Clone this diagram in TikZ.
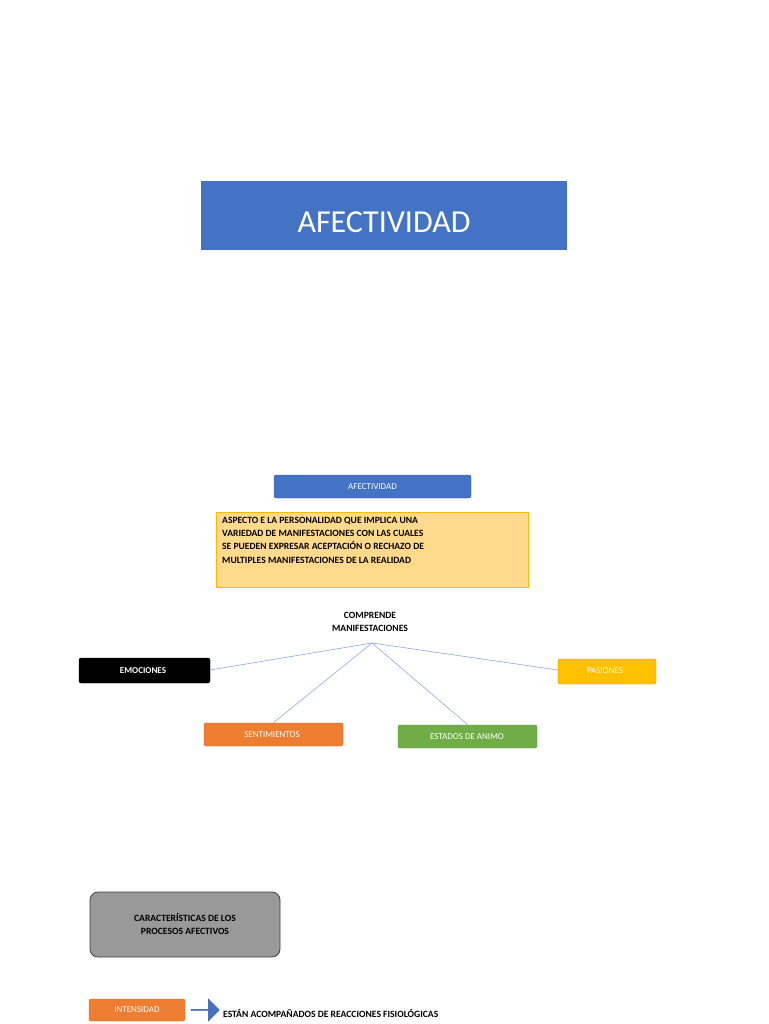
\documentclass[tikz,border=0pt]{standalone}
\usepackage{fontspec}
\setmainfont{Carlito}
\usetikzlibrary{shapes.arrows}
\definecolor{cblue}{HTML}{4472C4}
\definecolor{corange}{HTML}{ED7D31}
\definecolor{cgold}{HTML}{FFC000}
\definecolor{cgreen}{HTML}{70AD47}
\definecolor{cpale}{HTML}{FFD98C}
\definecolor{cline}{HTML}{8FAADC}
\tikzset{
  pill/.style={rounded corners=2pt, text=white, font=\fontsize{9}{10}\selectfont, inner sep=0pt, align=center},
  conn/.style={draw=cline, line width=0.6pt}
}
\begin{document}
\begin{tikzpicture}[x=1pt,y=-1pt]
\useasboundingbox (0,0) rectangle (768,1024);
\fill[white] (0,0) rectangle (768,1024);
% title
\fill[cblue] (201,181) rectangle (567,250);
\node[text=white, font=\fontsize{32}{36}\selectfont] (title) at (384,222) {AFECTIVIDAD};
% small header
\draw[pill, fill=cblue, draw=cblue!80!black] (274,475) rectangle (471,498);
\node[text=white, font=\fontsize{9}{10}\selectfont] (hdr) at (372.5,486.5) {AFECTIVIDAD};
% definition
\draw[fill=cpale, draw=cgold!90!orange] (216,512) rectangle (528,587);
\node[anchor=north west, align=left, font=\bfseries\fontsize{9.6}{13.2}\selectfont, inner sep=0pt] (def) at (222,517)
{ASPECTO E LA PERSONALIDAD QUE IMPLICA UNA\\VARIEDAD DE MANIFESTACIONES CON LAS CUALES\\SE PUEDEN EXPRESAR ACEPTACIÓN O RECHAZO DE\\MULTIPLES MANIFESTACIONES DE LA REALIDAD};
% comprende
\node[align=center, font=\bfseries\fontsize{9.6}{12.5}\selectfont] (comp) at (370,622) {COMPRENDE\\MANIFESTACIONES};
\coordinate (hub) at (372,643);
% boxes
\draw[rounded corners=2pt, fill=black] (79,658) rectangle (210,683);
\node[text=white, font=\bfseries\fontsize{9}{10}\selectfont] (emo) at (143,670.5) {EMOCIONES};
\draw[rounded corners=2pt, fill=cgold, draw=cgold!80!black] (558,659) rectangle (656,684);
\node[text=white, font=\fontsize{9}{10}\selectfont] (pas) at (605,671) {PASIONES};
\draw[rounded corners=2pt, fill=corange, draw=corange!85!black] (204,723) rectangle (343,746);
\node[text=white, font=\fontsize{9}{10}\selectfont] (sen) at (272,735) {SENTIMIENTOS};
\draw[rounded corners=2pt, fill=cgreen, draw=cgreen!85!black] (398,725) rectangle (537,748);
\node[text=white, font=\fontsize{9}{10}\selectfont] (est) at (467,737) {ESTADOS DE ANIMO};
\coordinate (emoR) at (210,670);
\coordinate (pasL) at (558,670);
\coordinate (senT) at (273,723);
\coordinate (estT) at (468,725);
\draw[conn] (hub) -- (emoR);
\draw[conn] (hub) -- (pasL);
\draw[conn] (hub) -- (senT);
\draw[conn] (hub) -- (estT);
% characteristics
\draw[rounded corners=8pt, fill=black!40, draw=black!75, line width=0.8pt] (90,892) rectangle (280,957);
\node[align=center, font=\bfseries\fontsize{9.6}{13}\selectfont] (car) at (185,924) {CARACTERÍSTICAS DE LOS\\PROCESOS AFECTIVOS};
% intensidad
\draw[rounded corners=2pt, fill=corange, draw=corange!85!black] (89,999) rectangle (185,1021);
\node[text=white, font=\fontsize{9}{10}\selectfont] (int) at (137,1010) {INTENSIDAD};
\node[single arrow, fill=cblue, draw=cblue!80!black, minimum height=28pt, minimum width=22pt, single arrow head extend=3pt, inner sep=0pt] (arr) at (205,1010) {};
\node[anchor=west, font=\bfseries\fontsize{9.6}{11}\selectfont, inner sep=0pt] (txt) at (223,1013) {ESTÁN ACOMPAÑADOS DE REACCIONES FISIOLÓGICAS};
\end{tikzpicture}
\end{document}
